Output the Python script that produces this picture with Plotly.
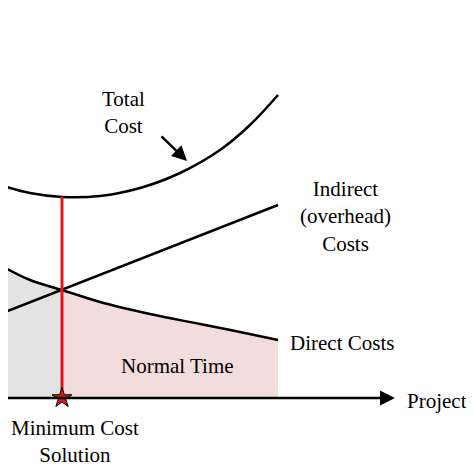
import plotly.graph_objects as go

# diagram coordinates (pixel-like units, y downward)
total_x = [0, 30, 62, 100, 140, 180, 220, 250, 278]
total_y = [185, 193, 197, 196, 188, 173, 150, 125, 95]
direct_x = [0, 30, 62, 100, 150, 200, 240, 278]
direct_y = [265, 280, 290, 302, 314, 324, 332, 340]
indirect_x = [0, 278]
indirect_y = [314, 205]
base_y = 398
opt_x = 62

F = dict(family="Liberation Serif, Times New Roman, DejaVu Serif, serif", size=21, color="black")
fig = go.Figure()
gx = [x for x in direct_x if x <= opt_x]
gy = direct_y[:len(gx)]
fig.add_trace(go.Scatter(x=gx + gx[::-1], y=gy + [base_y]*len(gx), fill="toself",
                         fillcolor="#e3e3e3", line=dict(width=0), mode="lines"))
px = [x for x in direct_x if x >= opt_x]
py = direct_y[-len(px):]
fig.add_trace(go.Scatter(x=px + px[::-1], y=py + [base_y]*len(px), fill="toself",
                         fillcolor="#f2dcdc", line=dict(width=0), mode="lines"))
for xs, ys in [(total_x, total_y), (direct_x, direct_y), (indirect_x, indirect_y)]:
    fig.add_trace(go.Scatter(x=xs, y=ys, mode="lines", line=dict(color="black", width=2.5, shape="spline")))
fig.add_trace(go.Scatter(x=[opt_x, opt_x], y=[total_y[2], base_y], mode="lines",
                         line=dict(color="#e0161b", width=3)))
fig.add_trace(go.Scatter(x=[opt_x], y=[base_y], mode="markers",
                         marker=dict(symbol="star", size=15, color="#e0161b", line=dict(color="black", width=1))))
fig.add_annotation(x=395, y=base_y, ax=0, ay=base_y, xref="x", yref="y", axref="x", ayref="y",
                   showarrow=True, arrowhead=2, arrowsize=1.2, arrowwidth=2.5, arrowcolor="black", text="")
fig.add_annotation(x=187, y=161, ax=160, ay=135, xref="x", yref="y", axref="x", ayref="y",
                   showarrow=True, arrowhead=2, arrowsize=1.2, arrowwidth=2.5, arrowcolor="black", text="")
texts = [(123, 112, "Total<br>Cost", "center"), (345, 216, "Indirect<br>(overhead)<br>Costs", "center"),
         (288, 343, "Direct Costs", "left"), (177, 366, "Normal Time", "center"),
         (-8, 367, "me", "left"), (405, 401, "Project", "left"),
         (75, 441, "Minimum Cost<br>Solution", "center")]
for x, y, t, a in texts:
    fig.add_annotation(x=x, y=y, text=t, showarrow=False, font=F, xanchor=a, align="center")
fig.update_layout(width=474, height=474, margin=dict(l=0, r=0, t=0, b=0), showlegend=False,
                  plot_bgcolor="white", paper_bgcolor="white", font=F,
                  xaxis=dict(range=[8, 482], visible=False),
                  yaxis=dict(range=[482, 8], visible=False))
fig.write_html("out.html")
